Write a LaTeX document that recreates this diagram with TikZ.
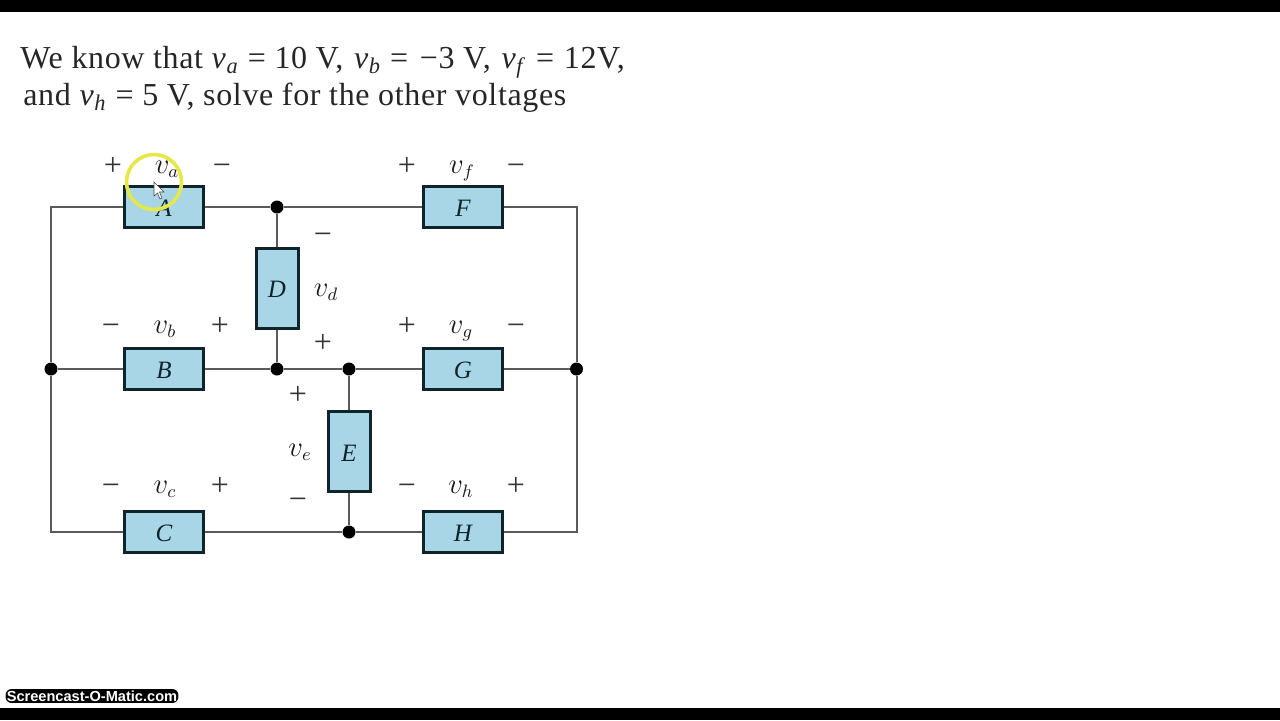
\documentclass[tikz,border=0pt]{standalone}
\usepackage{xcolor}
\usepackage{fontspec}
\setmainfont{Liberation Serif}
\newfontfamily\logofont{Liberation Sans}
\usetikzlibrary{math}
\definecolor{boxblue}{HTML}{A9D6E6}
\definecolor{boxedge}{HTML}{10242C}
\definecolor{wirecol}{HTML}{5A5A5A}
\definecolor{signcol}{HTML}{333333}
\definecolor{markcol}{HTML}{E6E84A}
\tikzset{
	elem/.style={draw=boxedge,fill=boxblue,line width=1.5pt,inner sep=0pt,text=boxedge,text height=9.75pt,text depth=0pt,font=\fontsize{12.5}{14}\selectfont\itshape},
	hbox/.style={elem,minimum width=39.5pt,minimum height=20.5pt},
	vbox/.style={elem,minimum width=21pt,minimum height=40pt},
	dot/.style={circle,fill=black,inner sep=0pt,minimum size=6.5pt},
	wire/.style={draw=wirecol,line width=1pt},
	sign/.style={text=signcol,inner sep=0pt,text height=8pt,text depth=0pt,yshift=-1.5pt,font=\fontsize{16}{18}\selectfont},
	vlab/.style={text=black!90,inner sep=0pt,text height=8pt,text depth=3pt,font=\fontsize{13.5}{15}\selectfont},
	headline/.style={anchor=base west,inner sep=0pt,text=black!85,font=\fontsize{16}{18}\selectfont\addfontfeature{LetterSpace=2}}
}
\begin{document}
\begin{tikzpicture}[x=0.5pt,y=-0.5pt]
\useasboundingbox (0,0) rectangle (1280,720);
\tikzmath{
	\xl = 51;\xr = 576.5;\xa = 164;\xf = 463;\xd = 277;\xe = 349;
	\yt = 207;\ym = 369;\yb = 532;
	{\fill[black] (0,0) rectangle (1280,12);};
	{\fill[black] (0,708) rectangle (1280,720);};
	%
	{\node[headline] (line1) at (20,68) {We know that \textit{v}\textsubscript{\textit{a}} = 10 V,\hspace{1pt} \textit{v}\textsubscript{\textit{b}} =\hspace{1.5pt} −3 V,\hspace{1pt} \textit{v}\textsubscript{\textit{f}}\hspace{0.5pt} =\hspace{0.5pt} 12V,};};
	{\node[headline] (line2) at (23,105) {and \textit{v}\textsubscript{\textit{h}} = 5 V, solve for the other voltages};};
	%
	{\coordinate (tl) at (\xl,\yt);};
	{\coordinate (tr) at (\xr,\yt);};
	{\coordinate (bl) at (\xl,\yb);};
	{\coordinate (br) at (\xr,\yb);};
	{\node[hbox] (A) at (\xa,\yt) {A};};
	{\node[hbox] (B) at (\xa,\ym) {B};};
	{\node[hbox] (C) at (\xa,\yb) {C};};
	{\node[hbox] (F) at (\xf,\yt) {F};};
	{\node[hbox] (G) at (\xf,\ym) {G};};
	{\node[hbox] (H) at (\xf,\yb) {H};};
	{\node[vbox] (D) at (\xd,288) {D};};
	{\node[vbox] (E) at (\xe,451.5) {E};};
	{\node[dot] (jl) at (\xl,\ym) {};};
	{\node[dot] (jr) at (\xr,\ym) {};};
	{\node[dot] (jt) at (\xd,\yt) {};};
	{\node[dot] (jd) at (\xd,\ym) {};};
	{\node[dot] (je) at (\xe,\ym) {};};
	{\node[dot] (jb) at (\xe,\yb) {};};
	%
	{\draw[wire] (jl) -- (tl) -- (A);};
	{\draw[wire] (jl) -- (bl) -- (C);};
	{\draw[wire] (jl) -- (B);};
	{\draw[wire] (A) -- (jt);};
	{\draw[wire] (jt) -- (F);};
	{\draw[wire] (F) -- (tr) -- (jr);};
	{\draw[wire] (jr) -- (br) -- (H);};
	{\draw[wire] (G) -- (jr);};
	{\draw[wire] (B) -- (jd);};
	{\draw[wire] (jd) -- (je);};
	{\draw[wire] (je) -- (G);};
	{\draw[wire] (C) -- (jb);};
	{\draw[wire] (jb) -- (H);};
	{\draw[wire] (jt) -- (D);};
	{\draw[wire] (D) -- (jd);};
	{\draw[wire] (je) -- (E);};
	{\draw[wire] (E) -- (jb);};
	%
	{\node[sign] (ap) at (113,164) {+};};
	{\node[sign] (am) at (222,164) {−};};
	{\node[vlab] (va) at (167,168) {$v_a$};};
	{\node[sign] (fp) at (407,164) {+};};
	{\node[sign] (fm) at (516,164) {−};};
	{\node[vlab] (vf) at (462,168) {$v_f$};};
	{\node[sign] (bm) at (111,324) {−};};
	{\node[sign] (bp) at (220,324) {+};};
	{\node[vlab] (vb) at (165,328) {$v_b$};};
	{\node[sign] (gp) at (407,324) {+};};
	{\node[sign] (gm) at (516,324) {−};};
	{\node[vlab] (vg) at (461,328) {$v_g$};};
	{\node[sign] (cm) at (111,484) {−};};
	{\node[sign] (cp) at (220,484) {+};};
	{\node[vlab] (vc) at (165,488) {$v_c$};};
	{\node[sign] (hm) at (407,484) {−};};
	{\node[sign] (hp) at (516,484) {+};};
	{\node[vlab] (vh) at (461,488) {$v_h$};};
	{\node[sign] (dm) at (323,233) {−};};
	{\node[sign] (dp) at (323,341) {+};};
	{\node[vlab] (vd) at (326,291) {$v_d$};};
	{\node[sign] (ep) at (298,393) {+};};
	{\node[sign] (em) at (298,498) {−};};
	{\node[vlab] (ve) at (300,451) {$v_e$};};
	%cursor highlight
	{\draw[markcol,line width=1.8pt] (154,182) circle (27.5);};
	{\draw[black!70,fill=white,line width=0.3pt] (154,182) -- (154,196) -- (157.5,193) -- (160,199) -- (162,198) -- (159.5,192) -- (164,192) -- cycle;};
	%
	{\node[fill=black,rounded corners=3pt,text=white,inner xsep=0.6pt,inner ysep=0.8pt,font=\logofont\bfseries\fontsize{7.3}{9}\selectfont] (logo) at (92,696) {Screencast-O-Matic.com};};
};
\end{tikzpicture}
\end{document}
